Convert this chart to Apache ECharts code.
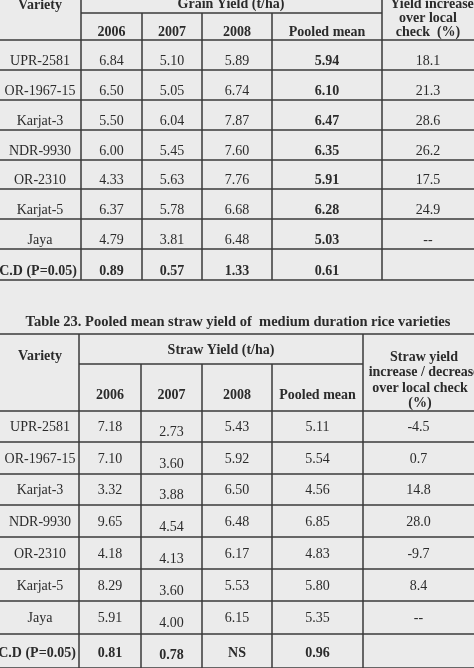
<!DOCTYPE html>
<html><head><meta charset="utf-8">
<script src="https://cdn.jsdelivr.net/npm/echarts@6/dist/echarts.min.js"></script>
<style>html,body{margin:0;padding:0;background:#ebebeb}#c{width:474px;height:668px}</style>
</head><body><div id="c"></div>
<script>
const varieties = ['UPR-2581','OR-1967-15','Karjat-3','NDR-9930','OR-2310','Karjat-5','Jaya'];
const years = ['2006','2007','2008','Pooled mean'];
const grain2006 = ['6.84','6.50','5.50','6.00','4.33','6.37','4.79'];
const grain2007 = ['5.10','5.05','6.04','5.45','5.63','5.78','3.81'];
const grain2008 = ['5.89','6.74','7.87','7.60','7.76','6.68','6.48'];
const grainPooled = ['5.94','6.10','6.47','6.35','5.91','6.28','5.03'];
const grainIncrease = ['18.1','21.3','28.6','26.2','17.5','24.9','--'];
const grainCD = ['0.89','0.57','1.33','0.61'];
const straw2006 = ['7.18','7.10','3.32','9.65','4.18','8.29','5.91'];
const straw2007 = ['2.73','3.60','3.88','4.54','4.13','3.60','4.00'];
const straw2008 = ['5.43','5.92','6.50','6.48','6.17','5.53','6.15'];
const strawPooled = ['5.11','5.54','4.56','6.85','4.83','5.80','5.35'];
const strawChange = ['-4.5','0.7','14.8','28.0','-9.7','8.4','--'];
const strawCD = ['0.81','0.78','NS','0.96'];
const cdLabel = 'C.D (P=0.05)';
const title2 = 'Table 23. Pooled mean straw yield of  medium duration rice varieties';

const g = [];
const TC = '#2b2b2b', LC = '#3a3a3a', FF = '"Liberation Serif","DejaVu Serif",serif';
function line(x1,y1,x2,y2){g.push({type:'line',shape:{x1,y1,x2,y2},style:{stroke:LC,lineWidth:1.5}});}
function txt(s,x,y,bold,size){g.push({type:'text',x,y,style:{text:s,fill:TC,font:(bold?'bold ':'')+(size||14)+'px '+FF,align:'center',verticalAlign:'middle'}});}

// ---- Table 1 ----
const c1 = [0,81,142,202,272,382,474];
const r1 = [40,70,100,130,160,189,219,249,280];
r1.forEach(y=>line(0,y,474,y));
line(81,13,382,13);
[81,382].forEach(x=>line(x,0,x,280));
[142,202,272].forEach(x=>line(x,13,x,280));
txt('Variety',40,5,true);
txt('Grain Yield (t/ha)',231,4,true);
years.forEach((s,i)=>txt(s,(c1[i+1]+c1[i+2])/2,32,true));
txt('Yield increase',432,4,true);txt('over local',428,18,true);txt('check  (%)',428,32,true);
const gcols=[grain2006,grain2007,grain2008,grainPooled,grainIncrease];
varieties.forEach((v,r)=>{
  const y=r1[r+1]-9;
  txt(v,40,y,false);
  gcols.forEach((col,i)=>txt(col[r],(c1[i+1]+c1[i+2])/2,y,i===3));
});
txt(cdLabel,38,r1[8]-9,true);
grainCD.forEach((s,i)=>txt(s,(c1[i+1]+c1[i+2])/2,r1[8]-9,true));

// ---- Table 2 ----
txt(title2,238,322,true,14.5);
const c2=[0,79,141,202,272,363,474];
const r2=[411,442,474,505,537,569,601,634,668];
line(0,334,474,334);
line(79,364,363,364);
r2.forEach(y=>line(0,y,474,y));
[79,363].forEach(x=>line(x,334,x,668));
[141,202,272].forEach(x=>line(x,364,x,668));
txt('Variety',40,356,true);
txt('Straw Yield (t/ha)',221,350,true);
years.forEach((s,i)=>txt(s,(c2[i+1]+c2[i+2])/2,395,true));
txt('Straw yield',424,357,true);txt('increase / decrease',424,372,true);
txt('over local check',420,388,true);txt('(%)',420,403,true);
const scols=[straw2006,straw2007,straw2008,strawPooled,strawChange];
varieties.forEach((v,r)=>{
  const y=(r2[r]+r2[r+1])/2+1;
  txt(v,40,y,false);
  scols.forEach((col,i)=>txt(col[r],(c2[i+1]+c2[i+2])/2,y+(i===1?5:0),false));
});
const cy=(r2[7]+r2[8])/2+2;
txt(cdLabel,37,cy,true);
strawCD.forEach((s,i)=>txt(s,(c2[i+1]+c2[i+2])/2,cy+(i===1?2:0),true));

const chart = echarts.init(document.getElementById('c'));
chart.setOption({backgroundColor:'#ebebeb',animation:false,graphic:{elements:g}});
</script></body></html>
